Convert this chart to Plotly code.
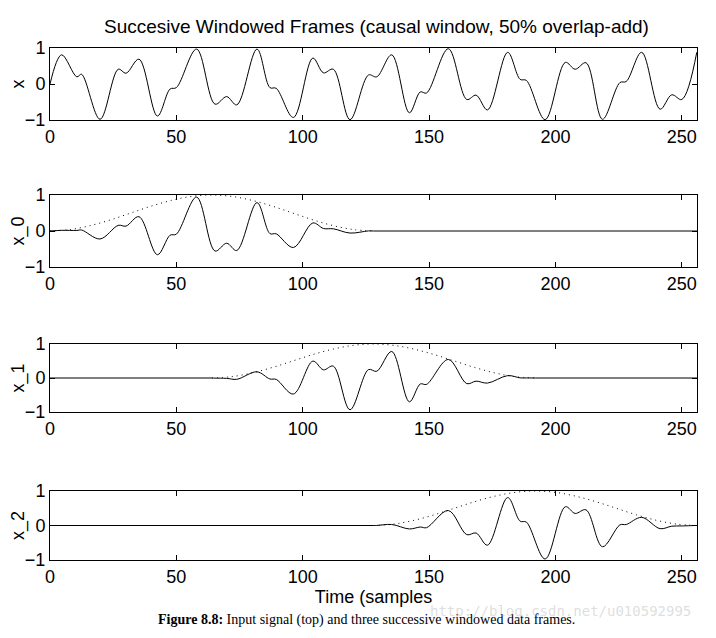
import numpy as np
import plotly.graph_objects as go

# key points of the input signal
x_n = [0, 4.6, 10.6, 12.5, 19.8, 27.0, 30.1, 35.2, 42.5, 47.5, 50, 58.0, 65.3, 69.9, 73.9,
       81.9, 87, 89.5, 96.3, 104.0, 108.2, 112.1, 118.7, 126.0, 129.3, 135.2, 142.2, 146.5,
       149.0, 157.6, 164.9, 168.6, 173.1, 181.1, 186.0, 188.5, 195.9, 203.9, 207.8, 212.1,
       218.6, 225.5, 228.0, 234.1, 241.4, 246.0, 250.0, 255.9]
x_val = [0, 0.81, 0.20, 0.27, -0.98, 0.41, 0.30, 0.69, -0.89, -0.14, -0.10, 0.97, -0.56,
         -0.35, -0.58, 0.97, -0.10, -0.12, -0.93, 0.72, 0.31, 0.41, -0.99, 0.25, 0.20, 0.81,
         -0.80, -0.22, -0.25, 0.98, -0.43, -0.31, -0.72, 0.88, 0.13, 0.10, -0.99, 0.60, 0.41,
         0.59, -0.98, 0.04, 0.07, 0.88, -0.70, -0.30, -0.43, 0.88]

# causal window shape (dotted), every 8 samples over its 128-sample length
win_n = list(range(0, 129, 8))
win_val = [0, 0.04, 0.15, 0.31, 0.50, 0.69, 0.85, 0.96, 1.0, 0.96, 0.85, 0.69, 0.50, 0.31,
           0.15, 0.04, 0]

hops = [0, 64, 128]
labels = ["x", "x_0", "x_1", "x_2"]

# page has an 8px body margin, so the figure is 16px smaller and shifted by 8
OFF = 8
W, H = 716 - 2 * OFF, 638 - 2 * OFF
rows_px = [(48, 120), (195, 267), (344, 412), (491, 560)]

def px(v):
    return (v - OFF) / W

def py(v):
    return 1 - (v - OFF) / H

fig = go.Figure()
line = dict(color="black", width=1)
fig.add_trace(go.Scatter(x=x_n, y=x_val, mode="lines", line=dict(color="black", width=1, shape="spline"),
                         xaxis="x", yaxis="y"))

xn = np.array(x_n)
xv = np.array(x_val)
for k, h in enumerate(hops):
    ax = str(k + 2)
    sel = (xn > h) & (xn < h + 128)
    fn = np.concatenate([[h], xn[sel], [h + 128]])
    fv = np.concatenate([[0], xv[sel] * np.interp(xn[sel] - h, win_n, win_val), [0]])
    fig.add_trace(go.Scatter(x=fn, y=fv, mode="lines", line=dict(color="black", width=1, shape="spline"),
                             xaxis="x" + ax, yaxis="y" + ax))
    if h > 0:
        fig.add_trace(go.Scatter(x=[0, h], y=[0, 0], mode="lines", line=line, xaxis="x" + ax, yaxis="y" + ax))
    if h + 128 < 256:
        fig.add_trace(go.Scatter(x=[h + 128, 256], y=[0, 0], mode="lines", line=line,
                                 xaxis="x" + ax, yaxis="y" + ax))
    fig.add_trace(go.Scatter(x=[h + n for n in win_n], y=win_val, mode="lines",
                             line=dict(color="black", width=1, dash="1px,4px", shape="spline"),
                             xaxis="x" + ax, yaxis="y" + ax))

font = dict(family="Liberation Sans, Arial", size=18, color="black")
layout = dict(width=W, height=H, margin=dict(l=0, r=0, t=0, b=0), showlegend=False,
              plot_bgcolor="white", paper_bgcolor="white", font=font)
for i, (top, bot) in enumerate(rows_px):
    s = "" if i == 0 else str(i + 1)
    common = dict(showline=True, linecolor="black", linewidth=1, mirror="ticks", ticks="inside",
                  ticklen=5, tickcolor="black", showgrid=False, zeroline=False, tickfont=font,
                  automargin=False)
    layout["xaxis" + s] = dict(common, domain=[px(50), px(697)], range=[0, 256],
                               tickvals=[0, 50, 100, 150, 200, 250], anchor="y" + s)
    layout["yaxis" + s] = dict(common, domain=[py(bot), py(top)], range=[-1, 1],
                               tickvals=[-1, 0, 1], anchor="x" + s,
                               title=dict(text=labels[i], font=font, standoff=4))
layout["xaxis4"]["title"] = dict(text="Time (samples", font=font, standoff=3)
fig.update_layout(**layout)
fig.add_annotation(text="Succesive Windowed Frames (causal window, 50% overlap-add)",
                   x=px(376), y=py(26), xref="paper", yref="paper", showarrow=False,
                   xanchor="center", yanchor="middle",
                   font=dict(family="Liberation Sans, Arial", size=19, color="black"))
fig.add_annotation(text="<b>Figure 8.8:</b> Input signal (top) and three successive windowed data frames.",
                   x=px(366), y=py(620), xref="paper", yref="paper", showarrow=False,
                   xanchor="center", yanchor="middle",
                   font=dict(family="Liberation Serif, Times New Roman", size=14, color="black"))
fig.add_annotation(text="http://blog.csdn.net/u010592995", x=px(560), y=py(611),
                   xref="paper", yref="paper", showarrow=False,
                   xanchor="center", yanchor="middle",
                   font=dict(family="DejaVu Sans Mono", size=14, color="rgba(170,170,170,0.4)"))
fig.write_html("out.html")
